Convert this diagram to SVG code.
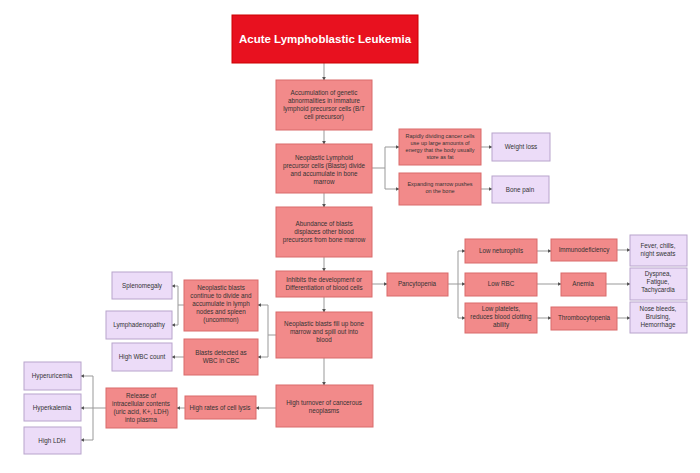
<svg xmlns="http://www.w3.org/2000/svg" width="700" height="473" viewBox="0 0 700 473">
<style>
.r{fill:#f28a8a;stroke:#d96a6a;stroke-width:1}
.p{fill:#ecdcf8;stroke:#b8a4cc;stroke-width:1}
text{font-family:"Liberation Sans",Arial,sans-serif;font-size:6.3px;fill:#333;text-anchor:middle}
.c path{fill:none;stroke:#999;stroke-width:1;marker-end:url(#a)}
</style>
<defs><marker id="a" viewBox="0 0 6 6" refX="5" refY="3" markerWidth="4" markerHeight="4" orient="auto"><path d="M0,0L6,3L0,6z" fill="#555"/></marker></defs>
<rect width="700" height="473" fill="#fff"/>
<g class="c">
<path d="M324,63V80"/><path d="M324,130V144"/><path d="M324,193V207"/><path d="M324,257V271"/><path d="M324,297V312"/><path d="M324,358V385"/>
<path d="M372,168H385V147H399"/><path d="M385,168V189H399"/>
<path d="M481,147H492"/><path d="M481,189H492"/>
<path d="M372,284H387"/>
<path d="M448,284H458V251H465"/><path d="M458,284H465"/><path d="M458,284V318H465"/>
<path d="M537,251H551"/><path d="M537,284H561"/><path d="M537,318H551"/>
<path d="M617,250H630"/><path d="M606,284H630"/><path d="M617,318H630"/>
<path d="M276,335H268V305H258"/><path d="M268,335V357H258"/>
<path d="M184,305H178V286H172"/><path d="M178,305V325H172"/><path d="M184,357H172"/>
<path d="M276,408H256"/><path d="M185,408H177"/>
<path d="M106,408H93V376H81"/><path d="M93,408H81"/><path d="M93,408V440H81"/>
</g>
<g id="title"><rect x="232" y="15" width="186" height="48" fill="#e8111f" stroke="#c00"/><text x="325" y="43" style="font-size:11.5px;font-weight:bold;fill:#fff">Acute Lymphoblastic Leukemia</text></g>
<g id="n1"><rect class="r" x="276" y="80" width="96" height="50"/><text x="324" y="95">Accumulation of genetic</text><text x="324" y="103">abnormalities in immature</text><text x="324" y="111">lymphoid precursor cells (B/T</text><text x="324" y="119">cell precursor)</text></g>
<g id="n2"><rect class="r" x="276" y="144" width="96" height="49"/><text x="324" y="160">Neoplastic Lymphoid</text><text x="324" y="168">precursor cells (Blasts) divide</text><text x="324" y="176">and accumulate in bone</text><text x="324" y="184">marrow</text></g>
<g id="n3"><rect class="r" x="276" y="207" width="96" height="50"/><text x="324" y="226">Abundance of blasts</text><text x="324" y="234">displaces other blood</text><text x="324" y="242">precursors from bone marrow</text></g>
<g id="n4"><rect class="r" x="276" y="271" width="96" height="26"/><text x="324" y="282">Inhibits the development or</text><text x="324" y="290">Differentiation of blood cells</text></g>
<g id="n5"><rect class="r" x="276" y="312" width="96" height="46"/><text x="324" y="326">Neoplastic blasts fill up bone</text><text x="324" y="334">marrow and spill out into</text><text x="324" y="342">blood</text></g>
<g id="n6"><rect class="r" x="276" y="385" width="97" height="42"/><text x="324" y="405">High turnover of cancerous</text><text x="324" y="413">neoplasms</text></g>
<g id="n7"><rect class="r" x="399" y="129" width="82" height="36"/><text x="440" y="138" style="font-size:5.5px">Rapidly dividing cancer cells</text><text x="440" y="145" style="font-size:5.5px">use up large amounts of</text><text x="440" y="152" style="font-size:5.5px">energy that the body usually</text><text x="440" y="159" style="font-size:5.5px">store as fat</text></g>
<g id="n8"><rect class="p" x="492" y="133" width="58" height="28"/><text x="521" y="149">Weight loss</text></g>
<g id="n9"><rect class="r" x="399" y="173" width="82" height="32"/><text x="440" y="186" style="font-size:5.5px">Expanding marrow pushes</text><text x="440" y="193" style="font-size:5.5px">on the bone</text></g>
<g id="n10"><rect class="p" x="492" y="176" width="57" height="27"/><text x="520" y="192">Bone pain</text></g>
<g id="n11"><rect class="r" x="387" y="273" width="61" height="23"/><text x="417" y="286">Pancytopenia</text></g>
<g id="n12"><rect class="r" x="465" y="239" width="72" height="24"/><text x="501" y="253">Low neturophils</text></g>
<g id="n13"><rect class="r" x="551" y="239" width="66" height="22"/><text x="584" y="252">Immunodeficiency</text></g>
<g id="n14"><rect class="p" x="630" y="235" width="57" height="31"/><text x="658" y="248">Fever, chills,</text><text x="658" y="256">night sweats</text></g>
<g id="n15"><rect class="r" x="465" y="273" width="72" height="23"/><text x="501" y="286">Low RBC</text></g>
<g id="n16"><rect class="r" x="561" y="273" width="45" height="23"/><text x="583" y="286">Anemia</text></g>
<g id="n17"><rect class="p" x="630" y="268" width="57" height="32"/><text x="658" y="276">Dyspnea,</text><text x="658" y="284">Fatigue,</text><text x="658" y="292">Tachycardia</text></g>
<g id="n18"><rect class="r" x="465" y="303" width="72" height="30"/><text x="501" y="311">Low platelets,</text><text x="501" y="319">reduces blood clotting</text><text x="501" y="327">ability</text></g>
<g id="n19"><rect class="r" x="551" y="307" width="66" height="23"/><text x="584" y="320">Thrombocytopenia</text></g>
<g id="n20"><rect class="p" x="630" y="302" width="57" height="31"/><text x="658" y="311">Nose bleeds,</text><text x="658" y="319">Bruising,</text><text x="658" y="327">Hemorrhage</text></g>
<g id="n21"><rect class="r" x="184" y="280" width="74" height="51"/><text x="221" y="290">Neoplastic blasts</text><text x="221" y="298">continue to divide and</text><text x="221" y="306">accumulate in lymph</text><text x="221" y="314">nodes and spleen</text><text x="221" y="322">(uncommon)</text></g>
<g id="n22"><rect class="r" x="184" y="339" width="74" height="36"/><text x="221" y="355">Blasts detected as</text><text x="221" y="363">WBC in CBC</text></g>
<g id="n23"><rect class="p" x="112" y="272" width="60" height="27"/><text x="142" y="288">Splenomegaly</text></g>
<g id="n24"><rect class="p" x="106" y="311" width="66" height="28"/><text x="139" y="327">Lymphadenopathy</text></g>
<g id="n25"><rect class="p" x="112" y="343" width="60" height="28"/><text x="142" y="359">High WBC count</text></g>
<g id="n26"><rect class="r" x="185" y="396" width="71" height="23"/><text x="220" y="410">High rates of cell lysis</text></g>
<g id="n27"><rect class="r" x="106" y="388" width="71" height="40"/><text x="141" y="398">Release of</text><text x="141" y="406">intracellular contents</text><text x="141" y="414">(uric acid, K+, LDH)</text><text x="141" y="422">into plasma</text></g>
<g id="n28"><rect class="p" x="24" y="362" width="57" height="28"/><text x="52" y="378">Hyperuricemia</text></g>
<g id="n29"><rect class="p" x="24" y="394" width="57" height="27"/><text x="52" y="410">Hyperkalemia</text></g>
<g id="n30"><rect class="p" x="24" y="427" width="57" height="27"/><text x="52" y="443">High LDH</text></g>
</svg>
